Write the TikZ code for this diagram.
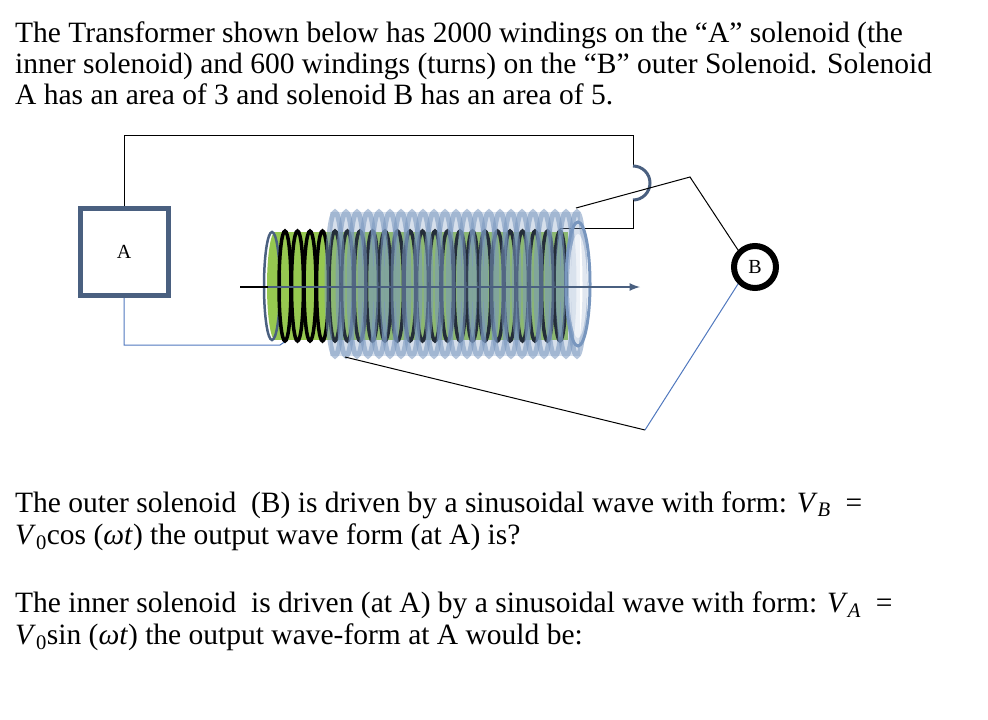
\documentclass[tikz,border=0pt]{standalone}
\usepackage{fontspec}
\setmainfont{Liberation Serif}
\begin{document}
\begin{tikzpicture}[x=1pt,y=-1pt,
  txt/.style={anchor=base west,inner sep=0pt,font=\fontsize{29.5}{32}\selectfont},
  wire/.style={black,line width=1pt},
  bwire/.style={color={rgb,255:red,80;green,120;blue,190},line width=1pt}]
\useasboundingbox (0,0) rectangle (988,720);
\definecolor{frame}{RGB}{74,96,128}
\definecolor{green1}{RGB}{150,200,80}
\definecolor{outerc}{RGB}{120,150,190}
% text
\node[txt] (t1) at (15,42) {The Transformer shown below has 2000 windings on the “A” solenoid (the};
\node[txt] (t2) at (15,73) {inner solenoid) and 600 windings (turns) on the “B” outer Solenoid. Solenoid};
\node[txt] (t3) at (15,104) {A has an area of 3 and solenoid B has an area of 5.};
\node[txt] (t4) at (15,512) {The outer solenoid\ \ (B) is driven by a sinusoidal wave with form: \textit{V}\textsubscript{\textit{B}}\ \ =};
\node[txt] (t5) at (15,544) {\textit{V}\textsubscript{0}cos (\textit{ωt}) the output wave form (at A) is?};
\node[txt] (t6) at (15,612) {The inner solenoid\ \ is driven (at A) by a sinusoidal wave with form: \textit{V}\textsubscript{\textit{A}}\ \ =};
\node[txt] (t7) at (15,644) {\textit{V}\textsubscript{0}sin (\textit{ωt}) the output wave-form at A would be:};
% box A
\node[draw=frame,line width=5pt,minimum width=88pt,minimum height=87pt,font=\fontsize{20}{22}\selectfont] (A) at (124,252) {A};
% B
\node[circle,draw=black,line width=6pt,minimum size=42pt,inner sep=0pt,font=\fontsize{20}{22}\selectfont] (B) at (755,267) {B};
% wires
\coordinate (c1) at (124,135); \coordinate (c2) at (633,135);
\coordinate (h1) at (633,166); \coordinate (h2) at (633,200);
\coordinate (c3) at (633,228); \coordinate (c4) at (560,228);
\draw[wire] (A.north) -- (c1) -- (c2) -- (h1);
\draw[frame,line width=3pt] (h1) arc[start angle=-90,end angle=90,radius=17];
\draw[wire] (h2) -- (c3) -- (c4);
\coordinate (l1) at (124,345); \coordinate (l2) at (280,345); \coordinate (l3) at (292,337);
\draw[bwire] (A.south) -- (l1) -- (l2) -- (l3);
% axis
\coordinate (ax1) at (240,287); \coordinate (ax2) at (640,287);
% inner solenoid
\fill[green1] (275,232) rectangle (568,340);
\fill[green1] (275,286) ellipse[x radius=8,y radius=54];
\draw[frame,line width=2.5pt] (272,286) ellipse[x radius=8,y radius=54];
\foreach \i in {0,...,22}{
  \draw[black,line width=3.5pt] (285+\i*12.5,286) ellipse[x radius=6,y radius=55];
}
\draw[line width=2.5pt] (ax1) -- (268,287);
% outer solenoid
\fill[outerc,opacity=0.3] (330,212) rectangle (580,356);
\foreach \i in {0,...,22}{
  \draw[outerc,opacity=0.55,line width=5pt] (335+\i*11,284) ellipse[x radius=8,y radius=72];
}
\fill[white,opacity=0.6] (578,286) ellipse[x radius=9,y radius=52];
\draw[outerc,line width=3pt] (578,284) ellipse[x radius=12,y radius=62];
\draw[frame,line width=2.5pt,-latex] (268,287) -- (ax2);
% B wires
\coordinate (o1) at (576,208); \coordinate (o2) at (690,177);
\draw[wire] (o1) -- (o2) -- (B.north west);
\coordinate (o3) at (345,357); \coordinate (o4) at (645,430);
\draw[wire] (o3) -- (o4);
\draw[bwire] (o4) -- (B.south west);
\end{tikzpicture}
\end{document}
